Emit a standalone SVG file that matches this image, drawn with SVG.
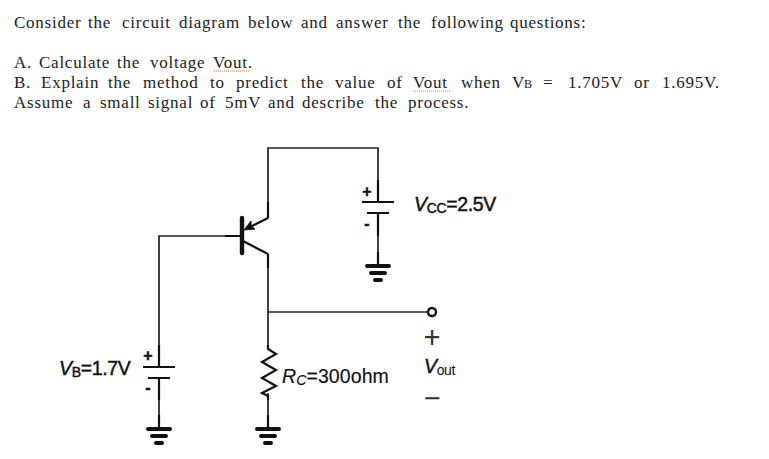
<svg xmlns="http://www.w3.org/2000/svg" width="769" height="459" viewBox="0 0 769 459">
<style>
.q{font:17px "Liberation Serif",serif;fill:#222;letter-spacing:.75px}
.l{font:19.5px "Liberation Sans",sans-serif;fill:#111;stroke:#111;stroke-width:.45px;letter-spacing:-.35px}
.r{stroke-width:.15px;letter-spacing:.1px}
.i{font-style:italic}
.s{font-size:14px}
.sg{font:bold 16px "Liberation Sans",sans-serif;fill:#111;stroke:#111;stroke-width:.4px;text-anchor:middle}
.bg{font:30px "Noto Sans",sans-serif;fill:#333;text-anchor:middle}
.w{fill:none;stroke:#222;stroke-width:1.7}
.h{fill:none;stroke:#111;stroke-width:2.2}
.t{fill:none;stroke:#111;stroke-width:4;stroke-linecap:round}
.b{fill:none;stroke:#111;stroke-width:4.4;stroke-linecap:round}
.sq{fill:none;stroke:#d2822a;stroke-width:1;stroke-dasharray:1 1}
</style>
<defs>
<g id="gnd"><path class="h" d="M0 -14V0"/><path class="t" d="M-11 0H11M-7 7H7M-3 14H3"/></g>
<g id="bat"><path class="h" d="M-16 0H16M-11 11H11"/></g>
</defs>
<rect width="769" height="459" fill="#fff"/>
<g id="question">
<text class="q" y="28"><tspan x="14">Consider</tspan><tspan x="88">the</tspan><tspan x="122">circuit</tspan><tspan x="179">diagram</tspan><tspan x="248">below</tspan><tspan x="301">and</tspan><tspan x="336">answer</tspan><tspan x="398">the</tspan><tspan x="431">following</tspan><tspan x="510">questions:</tspan></text>
<text class="q" y="68"><tspan x="14">A.</tspan><tspan x="39">Calculate</tspan><tspan x="117">the</tspan><tspan x="150">voltage</tspan><tspan x="213">Vout.</tspan></text>
<text class="q" y="88"><tspan x="14">B.</tspan><tspan x="41">Explain</tspan><tspan x="108">the</tspan><tspan x="143">method</tspan><tspan x="210">to</tspan><tspan x="236">predict</tspan><tspan x="301">the</tspan><tspan x="335">value</tspan><tspan x="387">of</tspan><tspan x="413">Vout</tspan><tspan x="461">when</tspan><tspan x="512">V</tspan><tspan x="524" font-size="12">B</tspan><tspan x="543">=</tspan><tspan x="568">1.705V</tspan><tspan x="634">or</tspan><tspan x="662">1.695V.</tspan></text>
<text class="q" y="108"><tspan x="14">Assume</tspan><tspan x="83">a</tspan><tspan x="100">small</tspan><tspan x="148">signal</tspan><tspan x="200">of</tspan><tspan x="225">5mV</tspan><tspan x="268">and</tspan><tspan x="302">describe</tspan><tspan x="375">the</tspan><tspan x="408">process.</tspan></text>
<path class="sq" d="M214 71H249M413 91H450"/>
</g>
<g id="connectors">
<path class="w" d="M378 202V148H268V218"/>
<path class="w" d="M242 236H159V367"/>
<path class="w" d="M268 254V347"/>
<path class="w" d="M268 312H428"/>
<path class="w" d="M268 393V415"/>
<path class="w" d="M378 213V252"/>
<path class="w" d="M159 378V415"/>
</g>
<g id="transistor">
<path class="b" d="M242 218V253"/>
<path class="h" d="M268 218L250 227M243 241L268 254"/>
<path d="M244 230L251 221L251 226L255 229Z" fill="#111" stroke="#111"/>
<path class="h" d="M268 202V218M268 254V268M225 236H242"/>
</g>
<g id="vcc-source">
<use href="#bat" x="378" y="202"/>
<path class="h" d="M378 180V202M378 213V236"/>
<text class="sg" x="367" y="197">+</text>
<text class="sg" x="367" y="229">-</text>
<use href="#gnd" x="378" y="266"/>
<text class="l" x="414" y="211"><tspan class="i">V</tspan><tspan class="s" dy="2">CC</tspan><tspan dy="-2">=2.5V</tspan></text>
</g>
<g id="vb-source">
<use href="#bat" x="159" y="367"/>
<path class="h" d="M159 345V367M159 378V400"/>
<text class="sg" x="148" y="361">+</text>
<text class="sg" x="148" y="393">-</text>
<use href="#gnd" x="159" y="429"/>
<text class="l" x="59" y="375"><tspan class="i">V</tspan><tspan class="s" dy="2">B</tspan><tspan dy="-2">=1.7V</tspan></text>
</g>
<g id="rc-resistor">
<path class="h" d="M268 345V349L276 354L262 362L276 370L262 378L276 386L262 393L268 396V400"/>
<use href="#gnd" x="268" y="429"/>
<text class="l r" x="282" y="383"><tspan class="i">R</tspan><tspan class="s i" dy="2">C</tspan><tspan dy="-2">=300ohm</tspan></text>
</g>
<g id="vout-port">
<circle cx="432" cy="312" r="4" fill="#fff" stroke="#111" stroke-width="2.4"/>
<text class="bg" x="432" y="348">+</text>
<text class="l" x="424" y="373"><tspan class="i">V</tspan><tspan class="s" dy="2" stroke-width="0">out</tspan></text>
<text class="bg" x="432" y="409">−</text>
</g>
</svg>
